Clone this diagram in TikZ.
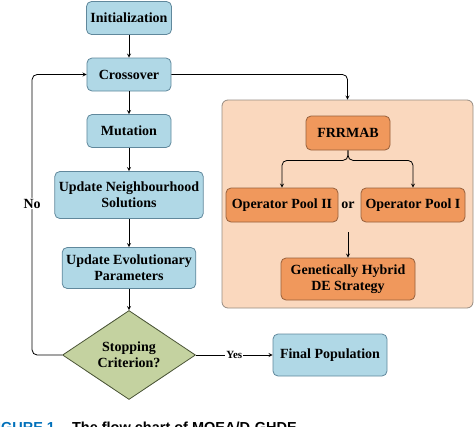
\documentclass[tikz,border=0pt]{standalone}
\usepackage{fontspec}
\setmainfont{Liberation Serif}
\newfontfamily\capfont{Liberation Sans}
\usepackage{tikz}
\usetikzlibrary{shapes.geometric, arrows}
\definecolor{procblue}{RGB}{176,216,230}
\definecolor{procedge}{RGB}{96,136,156}
\definecolor{operorange}{RGB}{240,152,92}
\definecolor{operedge}{RGB}{150,96,60}
\definecolor{poolpeach}{RGB}{250,216,190}
\definecolor{pooledge}{RGB}{150,140,130}
\definecolor{decgreen}{RGB}{196,210,160}
\definecolor{decedge}{RGB}{70,80,50}
\definecolor{capblue}{RGB}{0,112,186}
\tikzstyle{process} = [rectangle, rounded corners=5pt, minimum width=84pt, minimum height=33pt, inner xsep=4pt, align=center, draw=procedge, fill=procblue, line width=0.8pt, font=\fontsize{14}{16}\selectfont\bfseries]
\tikzstyle{operator} = [rectangle, rounded corners=5pt, minimum width=84pt, minimum height=34pt, inner xsep=4pt, align=center, draw=operedge, fill=operorange, line width=0.8pt, font=\fontsize{14}{16}\selectfont\bfseries]
\tikzstyle{decision} = [diamond, minimum width=133pt, minimum height=89pt, inner sep=0pt, align=center, draw=decedge, fill=decgreen, line width=0.8pt, font=\fontsize{14}{16}\selectfont\bfseries]
\tikzstyle{pool} = [rectangle, rounded corners=6pt, minimum width=251pt, minimum height=208pt, draw=pooledge, fill=poolpeach, line width=0.8pt]
\tikzstyle{arrow} = [line width=0.8pt,->,>=stealth]

\begin{document}
\begin{tikzpicture}[node distance=56.5pt] % centre to centre spacing of the main column

\useasboundingbox (-129pt,18pt) rectangle (345pt,-408pt);
\clip (-129pt,18pt) rectangle (345pt,-408pt);

% Right panel
\node (pool) [pool] at (218.5pt,-186pt) {};

% Main column
\node (init) [process] at (0,0) {Initialization};
\node (cross) [process, below of=init] {Crossover};
\node (mut) [process, below of=cross] {Mutation};
\node (upn) [process, below of=mut, yshift=-7.5pt, minimum height=47pt] {Update Neighbourhood\\Solutions};
\node (upe) [process, below of=upn, yshift=-16.5pt, minimum height=41pt] {Update Evolutionary\\Parameters};
\node (stop) [decision, below of=upe, yshift=-30.5pt] {Stopping\\Criterion?};
\node (final) [process, right of=stop, xshift=144.5pt, minimum width=114pt, minimum height=42pt] {Final Population};

% Operator selection
\node (frr) [operator] at (219pt,-115pt) {FRRMAB};
\node (ortext) [below of=frr, yshift=-15.5pt, font=\fontsize{14}{16}\selectfont\bfseries] {or};
\node (p2) [operator, left of=ortext, xshift=-9.5pt, minimum width=112pt] {Operator Pool II};
\node (p1) [operator, right of=ortext, xshift=8.5pt, minimum width=104pt] {Operator Pool I};
\node (gh) [operator, below of=ortext, yshift=-17.5pt, minimum width=134pt, minimum height=42pt] {Genetically Hybrid\\DE Strategy};

% Arrows
\draw [arrow] (init) -- (cross);
\draw [arrow] (cross) -- (mut);
\draw [arrow] (mut) -- (upn);
\draw [arrow] (upn) -- (upe);
\draw [arrow] (upe) -- (stop);
\draw [arrow] (stop) -- node[fill=white, inner sep=1pt, font=\fontsize{11}{12}\selectfont\bfseries] {Yes} (final);
\draw [arrow, rounded corners=5pt] (stop.west) -- ++(-30pt,0) |- node[pos=0.27, fill=white, inner sep=1pt, font=\fontsize{14}{16}\selectfont\bfseries] {No} (cross.west);
\draw [arrow, rounded corners=5pt] (cross.east) -| (pool.north);
\draw [arrow, rounded corners=5pt] (frr.south) -- ++(0,-10pt) -| (p2.north);
\draw [arrow, rounded corners=5pt] (frr.south) -- ++(0,-10pt) -| (p1.north);
\draw [arrow, shorten <=27pt] (ortext.center) -- (gh.north);

% Caption (cut by the page edge)
\node (caption) [anchor=base east, inner sep=0pt, font=\capfont\bfseries\fontsize{14.5}{16}\selectfont] at (168pt,-414pt) {\textcolor{capblue}{FIGURE 1.}\hspace{13pt}The flow chart of MOEA/D-GHDE};

\end{tikzpicture}
\end{document}
